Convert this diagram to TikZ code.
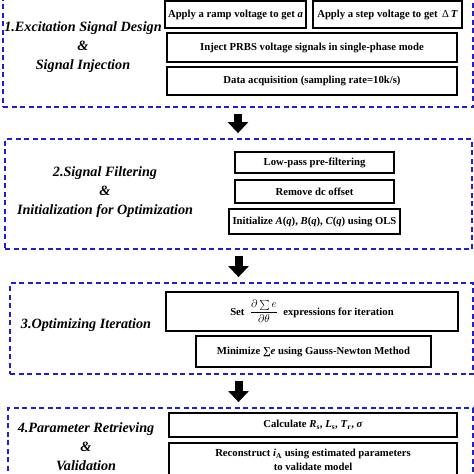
\documentclass[tikz,border=0pt]{standalone}
\usepackage{fontspec}
\setmainfont{Liberation Serif}
\usetikzlibrary{arrows.meta}
\definecolor{dashblue}{RGB}{30,30,215}
\tikzset{
  stage/.style={draw=dashblue, line width=1.8pt, dash pattern=on 5pt off 3.5pt, inner sep=0pt},
  stepbox/.style={draw=black, line width=1.3pt, inner sep=0pt, align=center,
     font=\fontsize{10.7}{14}\selectfont\bfseries},
  steplabel/.style={align=center, inner sep=0pt, font=\fontsize{14.2}{19}\selectfont\bfseries\itshape},
  bigarrow/.style={line width=8pt, -{Triangle[width=20pt,length=11pt]}, shorten <=6pt, shorten >=5pt}
}
\begin{document}
\begin{tikzpicture}[x=1pt,y=-1pt]
\useasboundingbox (0,0) rectangle (474,474);
\clip (0,0) rectangle (474,474);
% stage 1
\node[stage, minimum width=470, minimum height=117] (s1) at (238,48.5) {};
\node[stepbox, minimum width=141, minimum height=27] (ramp) at (235.5,14.5) {Apply a ramp voltage to get \textit{a}};
\node[stepbox, minimum width=149, minimum height=27] (stp) at (387.5,14.5) {Apply a step voltage to get \,{\mdseries Δ}\,\textit{T}};
\node[stepbox, minimum width=290, minimum height=29] (prbs) at (312,47.5) {Inject PRBS voltage signals in single-phase mode};
\node[stepbox, minimum width=290, minimum height=28] (daq) at (312,81) {Data acquisition (sampling rate=10k/s)};
\node[steplabel] (l1) at (83,47) {1.Excitation Signal Design\\\&\\Signal Injection};
% stage 2
\node[stage, minimum width=467, minimum height=110] (s2) at (238.5,194) {};
\node[stepbox, minimum width=159, minimum height=21] (lp) at (314.5,162.5) {Low-pass pre-filtering};
\node[stepbox, minimum width=159, minimum height=23] (dc) at (314.5,191.5) {Remove dc offset};
\node[stepbox, minimum width=171, minimum height=25] (ols) at (314.5,221.5) {Initialize \textit{A}(\textit{q}), \textit{B}(\textit{q}), \textit{C}(\textit{q}) using OLS};
\node[steplabel] (l2) at (105,192) {2.Signal Filtering\\\&\\Initialization for Optimization};
% stage 3
\node[stage, minimum width=463, minimum height=91] (s3) at (241.5,328.5) {};
\node[stepbox, minimum width=292, minimum height=39] (set) at (312,311.5) {Set \ $\displaystyle\frac{\partial\sum e}{\partial\theta}$ \ expressions for iteration};
\node[stepbox, minimum width=235, minimum height=31] (gn) at (313.5,351.5) {Minimize ∑\textit{e} using Gauss-Newton Method};
\node[steplabel] (l3) at (86,325) {3.Optimizing Iteration};
% stage 4
\node[stage, minimum width=465, minimum height=92] (s4) at (240.5,454) {};
\node[stepbox, minimum width=288, minimum height=24] (calc) at (313,425) {Calculate \textit{R}\textsubscript{s}, \textit{L}\textsubscript{s}, \textit{T}\textsubscript{r}, \textit{σ}};
\node[stepbox, minimum width=288, minimum height=34] (rec) at (313,460) {Reconstruct \textit{i}\textsubscript{A} using estimated parameters\\to validate model};
\node[steplabel] (l4) at (86,447) {4.Parameter Retrieving\\\&\\Validation};
% arrows
\draw[bigarrow] (s1.south) -- (s1.south |- s2.north);
\draw[bigarrow] (s2.south) -- (s2.south |- s3.north);
\draw[bigarrow] (s2.south |- s3.south) -- (s2.south |- s4.north);
\end{tikzpicture}
\end{document}
